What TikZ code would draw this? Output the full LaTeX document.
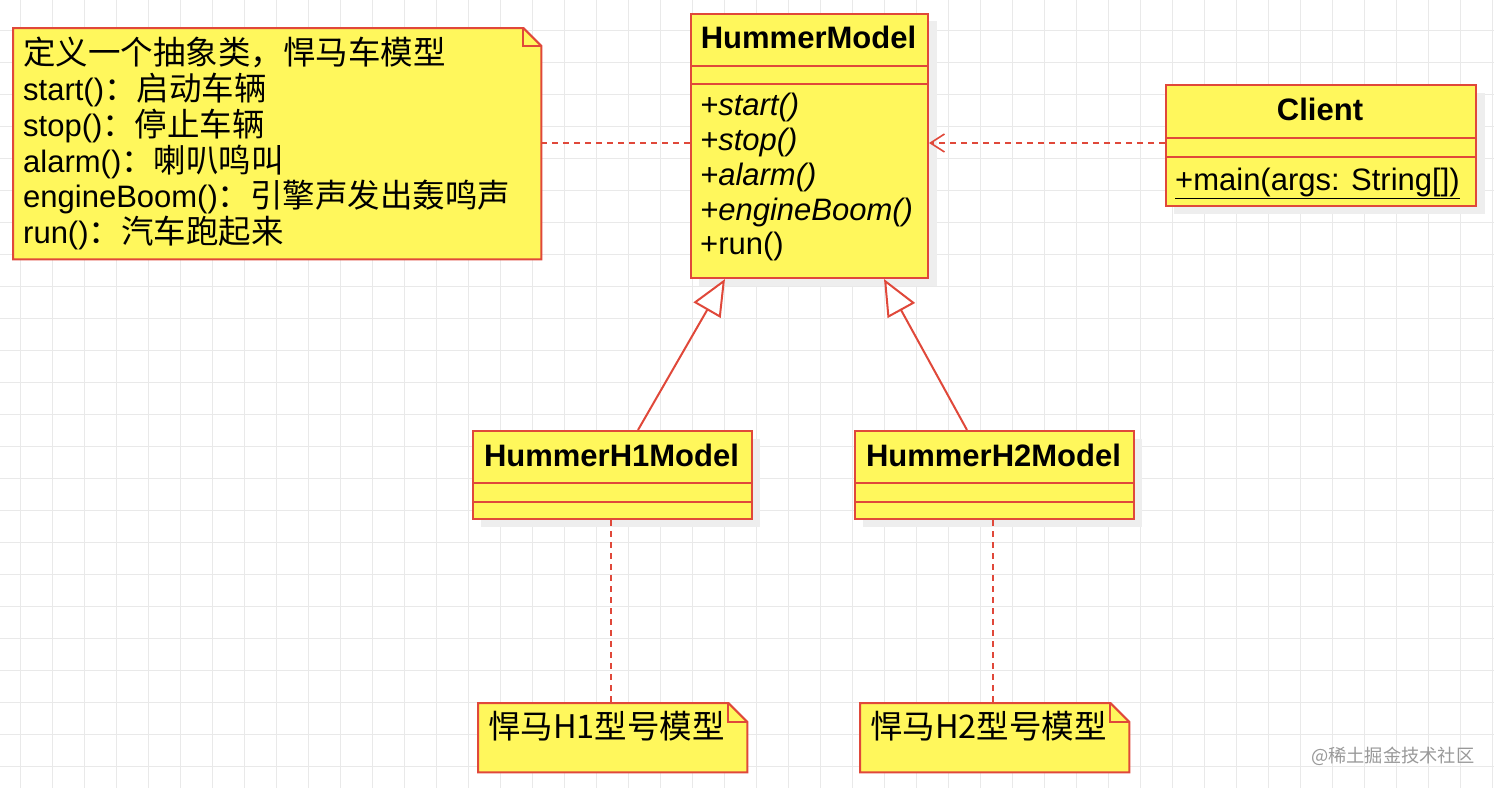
\documentclass[tikz,border=0pt]{standalone}
\usepackage{fontspec}
\setmainfont{Liberation Sans}
\newfontfamily\cjk[Scale=1.048]{Noto Sans CJK SC}
\usetikzlibrary{arrows.meta,calc}
\definecolor{umlred}{RGB}{224,72,58}
\definecolor{umlyel}{RGB}{255,247,92}
\definecolor{gridc}{RGB}{233,233,233}
\definecolor{shadowc}{RGB}{238,238,238}
\begin{document}
\begin{tikzpicture}[x=1pt,y=-1pt,
  box/.style={draw=umlred, line width=2pt, fill=umlyel, rectangle, inner sep=0pt, anchor=north west},
  sepline/.style={draw=umlred, line width=1.6pt},
  notebox/.style={rectangle, inner sep=0pt, anchor=north west},
  notedraw/.style={draw=umlred, line width=2pt, fill=umlyel, line join=miter},
  txt/.style={inner sep=0pt, font=\fontsize{31}{36}\selectfont},
  ttl/.style={inner sep=0pt, font=\fontsize{31}{36}\selectfont\bfseries, anchor=base},
  mth/.style={inner sep=0pt, font=\fontsize{31}{36}\selectfont\itshape, anchor=base west},
  dashline/.style={draw=umlred, line width=1.5pt, dash pattern=on 6pt off 5pt},
  gen/.style={draw=umlred, line width=2pt, -{Triangle[open, fill=white, length=36pt, width=31pt, line width=2pt]}},
  dep/.style={dashline, -{Straight Barb[length=14pt, width=18pt, line width=1.6pt]}},
]
% background and grid
\fill[white] (0,0) rectangle (1494,788);
\useasboundingbox (0,0) rectangle (1494,788);
\foreach \k in {0,...,46} \draw[gridc, line width=1pt] (20.7+32*\k,0) -- (20.7+32*\k,788);
\foreach \k in {0,...,23} \draw[gridc, line width=1pt] (0,30.7+32*\k) -- (1494,30.7+32*\k);

% shadows
\fill[shadowc] (699,21) rectangle (937,286);
\fill[shadowc] (1174,93) rectangle (1485,214);
\fill[shadowc] (481,439) rectangle (760,527);
\fill[shadowc] (863,439) rectangle (1142,527);

% HummerModel
\node[box, minimum width=237pt, minimum height=264pt] (hm) at (690,13) {};
\draw[sepline] ($(hm.north west)+(0,53)$) -- ($(hm.north east)+(0,53)$);
\draw[sepline] ($(hm.north west)+(0,71)$) -- ($(hm.north east)+(0,71)$);
\node[ttl] (hmn) at (808.5,48) {HummerModel};
\node[mth] (m1) at (700,115) {+start()};
\node[mth] (m2) at (700,150) {+stop()};
\node[mth] (m3) at (700,185) {+alarm()};
\node[mth] (m4) at (700,220) {+engineBoom()};
\node[txt, anchor=base west] (m5) at (700,254) {+run()};

% Client
\node[box, minimum width=310pt, minimum height=121pt] (cl) at (1165,84) {};
\draw[sepline] ($(cl.north west)+(0,54)$) -- ($(cl.north east)+(0,54)$);
\draw[sepline] ($(cl.north west)+(0,73)$) -- ($(cl.north east)+(0,73)$);
\node[ttl] (cln) at (1320,120) {Client};
\node[txt, anchor=base west] (clm) at (1175,190) {\underline{+main(args: String[])}};

% HummerH1Model
\node[box, minimum width=279pt, minimum height=88pt] (h1) at (472,430) {};
\draw[sepline] ($(h1.north west)+(0,53)$) -- ($(h1.north east)+(0,53)$);
\draw[sepline] ($(h1.north west)+(0,72)$) -- ($(h1.north east)+(0,72)$);
\node[ttl] (h1n) at (611.5,466) {HummerH1Model};

% HummerH2Model
\node[box, minimum width=279pt, minimum height=88pt] (h2) at (854,430) {};
\draw[sepline] ($(h2.north west)+(0,53)$) -- ($(h2.north east)+(0,53)$);
\draw[sepline] ($(h2.north west)+(0,72)$) -- ($(h2.north east)+(0,72)$);
\node[ttl] (h2n) at (993.5,466) {HummerH2Model};

% big note
\node[notebox, minimum width=528pt, minimum height=231pt] (nt) at (13,28) {};
\draw[notedraw] (nt.north west) -- ($(nt.north east)+(-18,0)$) -- ($(nt.north east)+(0,18)$) -- (nt.south east) -- (nt.south west) -- cycle;
\draw[draw=umlred, line width=2pt] ($(nt.north east)+(-18,0)$) -- ($(nt.north east)+(-18,18)$) -- ($(nt.north east)+(0,18)$);
\node[txt, anchor=base west] (n1) at (23,64) {\cjk 定义一个抽象类，悍马车模型};
\node[txt, anchor=base west] (n2) at (23,100) {start(){\cjk ：启动车辆}};
\node[txt, anchor=base west] (n3) at (23,136) {stop(){\cjk ：停止车辆}};
\node[txt, anchor=base west] (n4) at (23,172) {alarm(){\cjk ：喇叭鸣叫}};
\node[txt, anchor=base west] (n5) at (23,207) {engineBoom(){\cjk ：引擎声发出轰鸣声}};
\node[txt, anchor=base west] (n6) at (23,243) {run(){\cjk ：汽车跑起来}};

% note H1
\node[notebox, minimum width=269pt, minimum height=69pt] (nh1) at (478,703) {};
\draw[notedraw] (nh1.north west) -- ($(nh1.north east)+(-19,0)$) -- ($(nh1.north east)+(0,19)$) -- (nh1.south east) -- (nh1.south west) -- cycle;
\draw[draw=umlred, line width=2pt] ($(nh1.north east)+(-19,0)$) -- ($(nh1.north east)+(-19,19)$) -- ($(nh1.north east)+(0,19)$);
\node[txt, anchor=base west] (nh1t) at (488,738) {\cjk 悍马H1型号模型};

% note H2
\node[notebox, minimum width=269pt, minimum height=69pt] (nh2) at (860,703) {};
\draw[notedraw] (nh2.north west) -- ($(nh2.north east)+(-19,0)$) -- ($(nh2.north east)+(0,19)$) -- (nh2.south east) -- (nh2.south west) -- cycle;
\draw[draw=umlred, line width=2pt] ($(nh2.north east)+(-19,0)$) -- ($(nh2.north east)+(-19,19)$) -- ($(nh2.north east)+(0,19)$);
\node[txt, anchor=base west] (nh2t) at (870,738) {\cjk 悍马H2型号模型};

% connectors
\draw[dashline] (nt.east |- 0,143) -- (hm.west |- 0,143);
\draw[dep] (cl.west |- 0,143) -- (hm.east |- 0,143);
\draw[gen] (h1.north -| 638,0) -- (hm.south -| 725,0);
\draw[gen] (h2.north -| 967,0) -- (hm.south -| 884,0);
\draw[dashline] (h1.south -| 611,0) -- (nh1.north -| 611,0);
\draw[dashline] (h2.south -| 993,0) -- (nh2.north -| 993,0);

% watermark
\node[inner sep=0pt, anchor=base west, text=black!40, font=\cjk\fontsize{17.4}{20}\selectfont] (wm) at (1311,762) {@稀土掘金技术社区};
\end{tikzpicture}
\end{document}
